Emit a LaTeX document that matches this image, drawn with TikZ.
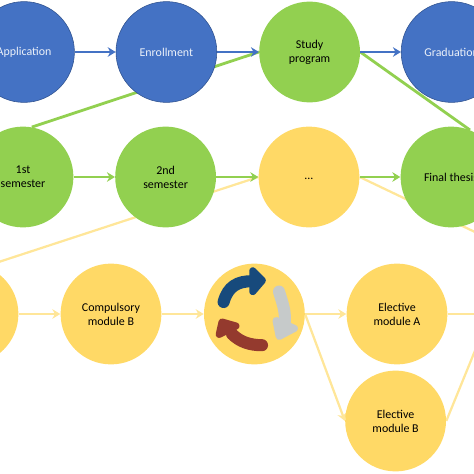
\documentclass[tikz,border=0pt]{standalone}
\usepackage{xcolor}
\usepackage{fontspec}
\setmainfont{Carlito}
\usepackage{tikz}
\usetikzlibrary{arrows.meta,positioning,backgrounds}
\definecolor{stepblue}{HTML}{4472C4}
\definecolor{edgeblue}{HTML}{2F528F}
\definecolor{stepgreen}{HTML}{92D050}
\definecolor{stepyellow}{HTML}{FFD966}
\definecolor{lineyellow}{HTML}{FFE699}
\definecolor{iconnavy}{HTML}{174A7C}
\definecolor{icongray}{HTML}{C6CACA}
\definecolor{iconred}{HTML}{943A2E}
\tikzset{
  stepnode/.style={circle, minimum size=2.52cm, inner sep=0pt, align=center, font=\fontsize{8.5}{10}\selectfont},
  bluenode/.style={stepnode, fill=stepblue, draw=edgeblue, text=white!90!stepblue},
  greennode/.style={stepnode, fill=stepgreen, text=black},
  yellownode/.style={stepnode, fill=stepyellow, text=black},
  bluearrow/.style={-{Stealth[length=2mm,width=2.4mm]}, line width=2pt, draw=stepblue},
  greenarrow/.style={-{Stealth[length=2mm,width=2.4mm]}, line width=2pt, draw=stepgreen},
  yellowarrow/.style={-{Stealth[length=2mm,width=2.4mm]}, line width=1.6pt, draw=lineyellow},
  greenline/.style={line width=2pt, draw=stepgreen},
  yellowline/.style={line width=1.6pt, draw=lineyellow},
  iconshaft/.style={line width=8.6pt, line cap=round},
  iconhead/.style={line width=5pt, line join=round}
}
\begin{document}
\begin{tikzpicture}
  \useasboundingbox (0,0) rectangle (11.85,11.85);
  \clip (0,0) rectangle (11.85,11.85);

  \node[bluenode] (application) at (0.6,10.55) {Application};
  \node[bluenode] (enrollment) at (4.16,10.55) {Enrollment};
  \node[greennode] (study) at (7.74,10.55) {Study\\program};
  \node[bluenode] (graduation) at (11.29,10.55) {Graduation};

  \node[greennode] (first) at (0.575,7.425) {1st\\semester};
  \node[greennode] (second) at (4.14,7.425) {2nd\\semester};
  \node[yellownode] (dots) at (7.725,7.425) {\raisebox{-3pt}{...}};
  \node[greennode] (thesis) at (11.275,7.425) {Final thesis};

  \node[yellownode] (modulea) at (-0.8,4.0) {};
  \node[yellownode] (moduleb) at (2.775,4.0) {Compulsory\\module B};
  \node[yellownode] (cycle) at (6.36,4.0) {};
  \node[yellownode] (electivea) at (9.925,4.0) {Elective\\module A};
  \node[yellownode] (electiveb) at (9.89,1.325) {Elective\\module B};

  \coordinate (exam) at (12.25,4.0);
  \coordinate (examtop) at (13.55,5.25);

  \begin{scope}[on background layer]
    \draw[greenline] (first.80) -- (study.west);
    \draw[greenline] (study.east) -- (thesis.68);
    \draw[yellowline] (modulea.70) -- (dots.west);
    \draw[yellowline] (dots.east) -- (examtop);
    \draw[bluearrow] (application) -- (enrollment);
    \draw[bluearrow] (enrollment) -- (study);
    \draw[bluearrow] (study) -- (graduation);
    \draw[greenarrow] (first) -- (second);
    \draw[greenarrow] (second) -- (dots);
    \draw[greenarrow] (dots) -- (thesis);
    \draw[yellowarrow] (modulea) -- (moduleb);
    \draw[yellowarrow] (moduleb) -- (cycle);
    \draw[yellowarrow] (cycle) -- (electivea);
    \draw[yellowarrow] (cycle.east) -- (electiveb.west);
    \draw[yellowline] (electivea) -- (exam);
    \draw[yellowline] (electiveb.east) -- (exam);
  \end{scope}

  % cycle icon
  \draw[iconshaft, iconnavy] (5.59,4.3) .. controls (5.7,4.7) and (5.95,4.82) .. (6.3,4.82);
  \filldraw[iconhead, draw=iconnavy, fill=iconnavy] (6.32,5.08) -- (6.56,4.84) -- (6.32,4.56) -- cycle;
  \draw[iconshaft, icongray] (6.975,4.56) .. controls (7.05,4.3) and (7.14,4.1) .. (7.12,3.8);
  \filldraw[iconhead, draw=icongray, fill=icongray] (6.9,3.84) -- (7.36,3.64) -- (6.98,3.44) -- cycle;
  \draw[iconshaft, iconred] (6.55,3.22) .. controls (6.25,3.22) and (6.0,3.3) .. (5.8,3.5);
  \filldraw[iconhead, draw=iconred, fill=iconred] (5.55,3.8) -- (5.48,3.49) -- (5.9,3.7) -- cycle;
\end{tikzpicture}
\end{document}
